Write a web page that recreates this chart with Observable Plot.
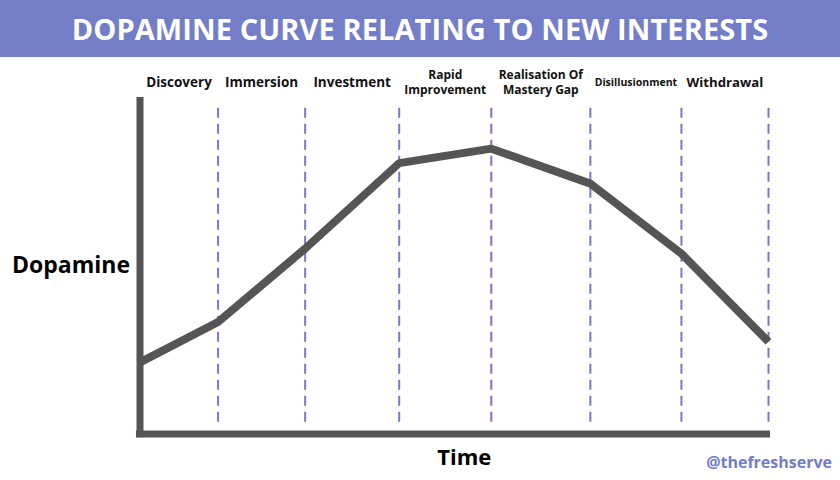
<!DOCTYPE html>
<html>
<head>
<meta charset="utf-8">
<script src="https://cdn.jsdelivr.net/npm/d3@7"></script>
<script src="https://cdn.jsdelivr.net/npm/@observablehq/plot@0.6"></script>
<style>
  html, body { margin: 0; padding: 0; background: #fff; width: 840px; height: 480px; overflow: hidden; position: relative; }
  #banner { height: 57px; background: #737dc8; color: #fff; font-family: "Open Sans", sans-serif; font-weight: 700; font-size: 29px; display: flex; align-items: center; justify-content: center; letter-spacing: 0.1px; }
  #caption { position: absolute; right: 8px; top: 451px; font-family: "Open Sans", sans-serif; font-weight: 700; font-size: 16px; color: #737dc8; }
  svg { display: block; }
</style>
</head>
<body>
<div id="banner">DOPAMINE CURVE RELATING TO NEW INTERESTS</div>
<div id="chart"></div>
<div id="caption">@thefreshserve</div>
<script>
// Stage boundaries along time (arbitrary units)
const boundaries = [0, 78, 165, 259, 351, 450, 541, 628];
// Dopamine level at each boundary
const dopamine = [21.3, 33.3, 55.1, 80.5, 84.8, 74.4, 53.6, 27.4];
// Stage names (between consecutive boundaries)
const stages = ["Discovery", "Immersion", "Investment", "Rapid\nImprovement", "Realisation Of\nMastery Gap", "Disillusionment", "Withdrawal"];

const curve = boundaries.map((t, i) => ({t, v: dopamine[i]}));
const stageData = stages.map((s, i) => ({name: s, mid: (boundaries[i] + boundaries[i + 1]) / 2}));
const dividers = boundaries.slice(1);

const font = "'Open Sans', sans-serif";
const ink = "#555555";
const accent = "#737dc8";

const labelSize = d => d.name === "Disillusionment" ? 10.5
  : d.name.includes("\n") ? 12
  : d.name === "Withdrawal" ? 13.2 : 13.5;

const chart = Plot.plot({
  width: 840,
  height: 423,
  marginLeft: 139.5,
  marginRight: 72,
  marginTop: 40,
  marginBottom: 46.5,
  x: {domain: [0, 628], axis: null},
  y: {domain: [0, 100], axis: null},
  style: {fontFamily: font, background: "#fff", overflow: "visible"},
  marks: [
    Plot.ruleX(dividers, {y1: 3.5, y2: 97, stroke: accent, strokeWidth: 2, strokeDasharray: "10,6"}),
    Plot.line(curve, {x: "t", y: "v", stroke: ink, strokeWidth: 8, strokeLinejoin: "miter", strokeLinecap: "butt"}),
    Plot.ruleX([0], {y1: -1.1, y2: 100, stroke: ink, strokeWidth: 7}),
    Plot.ruleY([0], {x1: -3.5, x2: 630, stroke: ink, strokeWidth: 7}),
    Plot.text(stageData, {
      x: "mid", y: 104.8, text: "name",
      fontSize: labelSize,
      fontWeight: 700, fill: "#111", lineAnchor: "middle", lineHeight: 1.3
    }),
    Plot.text(["Dopamine"], {frameAnchor: "left", dx: -69, fontSize: 23, fontWeight: 700, fill: "#000", textAnchor: "middle"}),
    Plot.text(["Time"], {frameAnchor: "bottom", dx: 10, dy: 24, fontSize: 22, fontWeight: 700, fill: "#000", lineAnchor: "middle"})
  ]
});
document.getElementById("chart").appendChild(chart);
</script>
</body>
</html>
